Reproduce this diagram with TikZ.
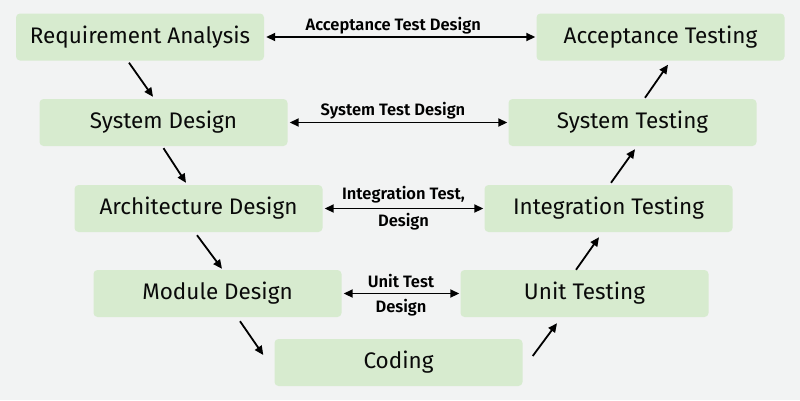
\documentclass[tikz,border=0pt]{standalone}
\usepackage{fontspec}
\setmainfont{Fira Sans}[BoldFont=* SemiBold]
\usetikzlibrary{arrows.meta, positioning}
\definecolor{boxgreen}{HTML}{D7EBCF}
\definecolor{bggray}{HTML}{F2F3F3}
\definecolor{inkdark}{HTML}{0A0A0A}

\begin{document}
\begin{tikzpicture} [x=1pt, y=-1pt,
  phase/.style = {fill=boxgreen, rounded corners=4pt, minimum width=248pt,
    minimum height=47pt, inner sep=0pt, text=inkdark, font=\fontsize{22.5}{26}\selectfont},
  flow/.style = {-{Triangle[length=9pt, width=8pt]}, line width=1.8pt},
  link/.style = {{Triangle[length=9pt, width=8pt]}-{Triangle[length=9pt, width=8pt]},
    line width=1.8pt, shorten <=2pt, shorten >=1pt},
  tag/.style = {font=\bfseries\fontsize{16.5}{19}\selectfont, inner sep=2pt}]

\fill [bggray] (0,0) rectangle (800,400);

% verification side
\node (ra) [phase] at (140,37)    {Requirement Analysis};
\node (sd) [phase] at (163.5,122.5) {System Design};
\node (ad) [phase] at (198.5,208.5) {Architecture Design};
\node (md) [phase] at (217.5,293.5) {Module Design};
\node (cd) [phase] at (398.5,362.5) {Coding};

% validation side
\node (at) [phase] at (660.5,37)    {Acceptance Testing};
\node (st) [phase] at (632.5,122.5) {System Testing};
\node (it) [phase] at (608.5,208.5) {Integration Testing};
\node (ut) [phase] at (584.5,293.5) {Unit Testing};

% down the V
\draw [flow] ([xshift=-11pt, yshift=-2pt]ra.south) -- ([xshift=-10.5pt, yshift=2pt]sd.north);
\draw [flow] ([yshift=-2pt]sd.south) -- ([xshift=-12.5pt, yshift=2pt]ad.north);
\draw [flow] ([xshift=-1.5pt, yshift=-3pt]ad.south) -- ([xshift=4.5pt, yshift=1pt]md.north);
\draw [flow] ([xshift=22.5pt, yshift=-4pt]md.south) -- ([xshift=-11pt, yshift=7.5pt]cd.west);

% up the V
\draw [flow] ([xshift=10pt, yshift=6.5pt]cd.east) -- ([xshift=-27.5pt, yshift=-6pt]ut.south);
\draw [flow] ([xshift=-8.5pt]ut.north) -- ([xshift=-9.5pt, yshift=-5pt]it.south);
\draw [flow] ([xshift=2.5pt, yshift=2pt]it.north) -- ([xshift=2.5pt, yshift=-3pt]st.south);
\draw [flow] ([xshift=12.5pt, yshift=1pt]st.north) -- ([xshift=7.5pt, yshift=-4pt]at.south);

% test design links
\draw [link] (ra) -- node [tag, above, xshift=-7pt] {Acceptance Test Design} (at);
\draw [link] (sd) -- node [tag, above, xshift=-5pt] {System Test Design} (st);
\draw [link] (ad) -- node [tag, above, yshift=2pt] {Integration Test,}
                     node [tag, below, yshift=-2pt] {Design} (it);
\draw [link] (md) -- node [tag, above, yshift=3pt] {Unit Test}
                     node [tag, below, yshift=-3pt] {Design} (ut);
\end{tikzpicture}
\end{document}
